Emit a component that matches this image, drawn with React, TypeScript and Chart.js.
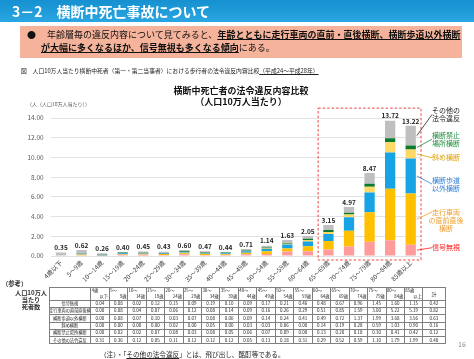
import React, { useEffect, useRef } from 'react';
import { Chart, registerables } from 'chart.js';

Chart.register(...registerables);

const categories = ['4歳以下', '5～9歳', '10～14歳', '15～19歳', '20～24歳', '25～29歳', '30～34歳', '35～39歳', '40～44歳', '45～49歳', '50～54歳', '55～59歳', '60～64歳', '65～69歳', '70～74歳', '75～79歳', '80～84歳', '85歳以上'];

const signalViolation = [0.04, 0.08, 0.02, 0.12, 0.15, 0.09, 0.19, 0.10, 0.09, 0.17, 0.21, 0.46, 0.48, 0.67, 0.96, 1.45, 1.60, 1.15];
const vehicleFrontRear = [0.00, 0.08, 0.04, 0.07, 0.06, 0.12, 0.08, 0.14, 0.09, 0.16, 0.26, 0.29, 0.51, 0.85, 1.59, 3.00, 5.22, 5.19];
const outsideCrosswalk = [0.00, 0.08, 0.07, 0.10, 0.03, 0.07, 0.08, 0.06, 0.09, 0.14, 0.24, 0.41, 0.49, 0.72, 1.37, 1.99, 3.68, 3.56];
const diagonalCrossing = [0.00, 0.00, 0.00, 0.00, 0.02, 0.00, 0.05, 0.00, 0.03, 0.03, 0.06, 0.08, 0.14, 0.19, 0.28, 0.59, 1.03, 0.90];
const prohibitedPlace = [0.00, 0.02, 0.02, 0.07, 0.08, 0.03, 0.08, 0.05, 0.06, 0.07, 0.09, 0.08, 0.13, 0.20, 0.18, 0.30, 0.41, 0.42];
const otherViolation = [0.31, 0.36, 0.12, 0.05, 0.11, 0.12, 0.12, 0.12, 0.05, 0.13, 0.18, 0.31, 0.29, 0.52, 0.59, 1.10, 1.79, 1.99];
const totals = [0.35, 0.62, 0.26, 0.40, 0.45, 0.43, 0.60, 0.47, 0.44, 0.71, 1.14, 1.63, 2.05, 3.15, 4.97, 8.47, 13.72, 13.22];

const seriesNames = ['信号無視', '走行車両の直前直後横断', '横断歩道以外横断', '斜め横断', '横断禁止場所横断', 'その他の法令違反'];
const seriesValues = [signalViolation, vehicleFrontRear, outsideCrosswalk, diagonalCrossing, prohibitedPlace, otherViolation];
const seriesColors = ['#FF9B9B', '#FFC000', '#18A3E4', '#FFD966', '#0A7A2E', '#BFBFBF'];
const tableTotals = [0.42, 0.82, 0.63, 0.16, 0.12, 0.40];

const headerTop = ['4歳', '5～', '10～', '15～', '20～', '25～', '30～', '35～', '40～', '45～', '50～', '55～', '60～', '65～', '70～', '75～', '80～', '85歳'];
const headerBottom = ['以下', '9歳', '14歳', '19歳', '24歳', '29歳', '34歳', '39歳', '44歳', '49歳', '54歳', '59歳', '64歳', '69歳', '74歳', '79歳', '84歳', '以上'];

const Y_MAX = 14;
const Y_STEP = 2;
const HIGHLIGHT_FROM = 13;
const HIGHLIGHT_TOP = 15;

const callouts = [
  { ds: 5, lines: ['その他の', '法令違反'], color: '#222222', at: 14.35 },
  { ds: 4, lines: ['横断禁止', '場所横断'], color: '#1E8E3E', at: 11.85 },
  { ds: 3, lines: ['斜め横断'], color: '#E0A100', at: 9.97 },
  { ds: 2, lines: ['横断歩道', '以外横断'], color: '#2F7FD8', at: 7.3 },
  { ds: 1, lines: ['走行車両', 'の直前直後', '横断'], color: '#F0A030', at: 3.65 },
  { ds: 0, lines: ['信号無視'], color: '#FF2020', at: 0.84 },
];

const JP = '"Noto Sans CJK JP", "Noto Sans", sans-serif';

const overlayPlugin = {
  id: 'overlay',
  afterDatasetsDraw(chart: any) {
    const { ctx } = chart;
    const xs = chart.scales.x;
    const ys = chart.scales.y;
    const nDs = chart.data.datasets.length;
    ctx.save();
    ctx.font = `bold 6.5px ${JP}`;
    ctx.fillStyle = '#262626';
    ctx.textAlign = 'center';
    ctx.textBaseline = 'bottom';
    totals.forEach((t, i) => {
      let top = Infinity;
      for (let d = 0; d < nDs; d++) {
        const el = chart.getDatasetMeta(d).data[i];
        if (el) top = Math.min(top, el.y);
      }
      ctx.fillText(t.toFixed(2), xs.getPixelForValue(i), top - 1.5);
    });
    const cw = xs.getPixelForValue(1) - xs.getPixelForValue(0);
    const last = categories.length - 1;
    const l = xs.getPixelForValue(HIGHLIGHT_FROM) - cw / 2;
    const r = xs.getPixelForValue(last) + cw / 2;
    const t = ys.getPixelForValue(HIGHLIGHT_TOP);
    const b = ys.getPixelForValue(0) + 4;
    ctx.strokeStyle = '#F04040';
    ctx.lineWidth = 1;
    ctx.setLineDash([2.5, 2]);
    ctx.strokeRect(l, t, r - l, b - t);
    ctx.setLineDash([]);
    ctx.font = `7px ${JP}`;
    ctx.textAlign = 'center';
    ctx.textBaseline = 'middle';
    const labelCx = r + 25;
    callouts.forEach((c) => {
      const el = chart.getDatasetMeta(c.ds).data[last];
      const x0 = el.x + el.width / 2 + 1;
      const y0 = (el.y + el.base) / 2;
      const cy = ys.getPixelForValue(c.at);
      const lh = 8;
      const startY = cy - ((c.lines.length - 1) * lh) / 2;
      ctx.strokeStyle = c.color;
      ctx.lineWidth = 0.8;
      ctx.beginPath();
      ctx.moveTo(x0, y0);
      ctx.lineTo(labelCx - 14, c.lines.length > 1 ? startY + lh * 0.5 * (c.lines.length > 2 ? 0 : 1) : cy);
      ctx.stroke();
      ctx.fillStyle = c.color;
      c.lines.forEach((ln, k) => ctx.fillText(ln, labelCx, startY + k * lh));
    });
    ctx.restore();
  },
};

function ChartCanvas() {
  const ref = useRef<HTMLCanvasElement>(null);
  useEffect(() => {
    if (!ref.current) return;
    const chart = new Chart(ref.current, {
      type: 'bar',
      data: {
        labels: categories,
        datasets: seriesValues.map((vals, i) => ({
          label: seriesNames[i],
          data: vals,
          backgroundColor: seriesColors[i],
          borderWidth: 0,
          barPercentage: 0.5,
          categoryPercentage: 1,
        })),
      },
      options: {
        responsive: false,
        animation: false,
        devicePixelRatio: 1,
        layout: { padding: { left: 0, right: 53, top: 118, bottom: 0 } },
        plugins: { legend: { display: false }, tooltip: { enabled: false }, title: { display: false } },
        scales: {
          x: {
            stacked: true,
            grid: { display: false, drawTicks: false },
            border: { display: false },
            ticks: {
              minRotation: 45,
              maxRotation: 45,
              autoSkip: false,
              padding: 3,
              color: '#404040',
              font: { size: 6.3, family: JP },
            },
            afterFit: (s: any) => { s.height = 103; },
          },
          y: {
            stacked: true,
            min: 0,
            max: Y_MAX,
            grid: { color: '#D9D9D9', lineWidth: 0.8, drawTicks: false },
            border: { display: false },
            ticks: {
              stepSize: Y_STEP,
              padding: 7,
              color: '#595959',
              font: { size: 6.5, family: JP },
              callback: (v: any) => Number(v).toFixed(2),
            },
            afterFit: (s: any) => { s.width = 50.7; },
          },
        },
      },
      plugins: [overlayPlugin],
    });
    return () => chart.destroy();
  }, []);
  return <canvas ref={ref} width={474} height={359} style={{ position: 'absolute', left: 0, top: 0 }} />;
}

function DataTable() {
  const left = 49;
  const top = 287;
  const firstW = 41.7;
  const colW = 18.45;
  const lastW = 22.2;
  const headH = 13;
  const rowH = 7.3;
  const line = '#7F7F7F';
  const cells: React.ReactNode[] = [];
  const colX = (c: number) => (c === 0 ? 0 : firstW + (c - 1) * colW);
  const colWidth = (c: number) => (c === 0 ? firstW : c <= categories.length ? colW : lastW);
  const nCols = categories.length + 2;
  const totalW = firstW + categories.length * colW + lastW;
  const totalH = headH + seriesValues.length * rowH;
  const base: React.CSSProperties = { position: 'absolute', boxSizing: 'border-box', overflow: 'hidden', whiteSpace: 'nowrap', fontSize: 4.5, color: '#222' };
  // header
  for (let c = 1; c < nCols; c++) {
    const x = colX(c);
    const w = colWidth(c);
    if (c <= categories.length) {
      cells.push(
        <div key={`h${c}`} style={{ ...base, left: x, top: 0, width: w, height: headH, lineHeight: '6px', fontSize: 4.3 }}>
          <div style={{ textAlign: 'left', paddingLeft: 1 }}>{headerTop[c - 1]}</div>
          <div style={{ textAlign: 'right', paddingRight: 1 }}>{headerBottom[c - 1]}</div>
        </div>
      );
    } else {
      cells.push(<div key="hsum" style={{ ...base, left: x, top: 0, width: w, height: headH, lineHeight: `${headH}px`, textAlign: 'center', fontSize: 5 }}>計</div>);
    }
  }
  seriesValues.forEach((vals, r) => {
    const y = headH + r * rowH;
    cells.push(<div key={`l${r}`} style={{ ...base, left: 0, top: y, width: firstW, height: rowH, lineHeight: `${rowH}px`, textAlign: 'center', fontSize: 4.2 }}>{seriesNames[r]}</div>);
    vals.forEach((v, i) => {
      cells.push(<div key={`c${r}_${i}`} style={{ ...base, left: colX(i + 1), top: y, width: colW, height: rowH, lineHeight: `${rowH}px`, textAlign: 'center' }}>{v.toFixed(2)}</div>);
    });
    cells.push(<div key={`t${r}`} style={{ ...base, left: colX(nCols - 1), top: y, width: lastW, height: rowH, lineHeight: `${rowH}px`, textAlign: 'center' }}>{tableTotals[r].toFixed(2)}</div>);
  });
  const lines: React.ReactNode[] = [];
  for (let c = 0; c <= nCols; c++) {
    const x = c === nCols ? totalW : colX(c);
    lines.push(<div key={`v${c}`} style={{ position: 'absolute', left: x - 0.4, top: 0, width: 0.8, height: totalH, background: line }} />);
  }
  for (let r = 0; r <= seriesValues.length + 1; r++) {
    const y = r === 0 ? 0 : headH + (r - 1) * rowH;
    lines.push(<div key={`hl${r}`} style={{ position: 'absolute', left: 0, top: y - 0.4, width: totalW, height: 0.8, background: line }} />);
  }
  return (
    <div style={{ position: 'absolute', left, top, width: totalW, height: totalH, fontFamily: JP, background: '#fff' }}>
      {cells}
      {lines}
    </div>
  );
}

export default function App() {
  return (
    <div style={{ position: 'absolute', left: 0, top: 0, width: 474, height: 359, background: '#fff', overflow: 'hidden', fontFamily: JP }}>
      <ChartCanvas />
      <div style={{ position: 'absolute', left: 0, top: 0, width: 474, height: 22, background: 'linear-gradient(#1690D0, #2AA6E2)' }} />
      <div style={{ position: 'absolute', left: 12, top: 1, fontSize: 14, fontWeight: 700, color: '#fff', whiteSpace: 'nowrap', lineHeight: '20px' }}>3－2　横断中死亡事故について</div>
      <div style={{ position: 'absolute', left: 20, top: 26, width: 442, height: 32, background: '#F5B39B' }} />
      <div style={{ position: 'absolute', left: 27, top: 29, fontSize: 9, lineHeight: '12px', color: '#111' }}>●</div>
      <div style={{ position: 'absolute', left: 47, top: 29, fontSize: 9, lineHeight: '12px', color: '#111', whiteSpace: 'nowrap' }}>
        年齢層毎の違反内容について見てみると、<b style={{ textDecoration: 'underline' }}>年齢とともに走行車両の直前・直後横断、横断歩道以外横断</b>
      </div>
      <div style={{ position: 'absolute', left: 41, top: 42, fontSize: 9, lineHeight: '12px', color: '#111', whiteSpace: 'nowrap' }}>
        <b style={{ textDecoration: 'underline' }}>が大幅に多くなるほか、信号無視も多くなる傾向</b>にある。
      </div>
      <div style={{ position: 'absolute', left: 21, top: 67, fontSize: 5.8, lineHeight: '8px', color: '#222', whiteSpace: 'nowrap' }}>
        図　人口10万人当たり横断中死者（第一・第二当事者）における歩行者の法令違反内容比較<span style={{ textDecoration: 'underline' }}>（平成24～平成28年）</span>
      </div>
      <div style={{ position: 'absolute', left: 0, width: 482, top: 85, textAlign: 'center', fontSize: 9, fontWeight: 700, lineHeight: '11px', color: '#111' }}>
        横断中死亡者の法令違反内容比較<br />（人口10万人当たり）
      </div>
      <div style={{ position: 'absolute', left: 27, top: 100, fontSize: 5, lineHeight: '7px', color: '#595959', whiteSpace: 'nowrap' }}>（人（人口10万人当たり））</div>
      <div style={{ position: 'absolute', left: 2, top: 280, fontSize: 6.3, fontWeight: 700, lineHeight: '8px', color: '#333' }}>（参考）</div>
      <div style={{ position: 'absolute', left: 11, width: 40, top: 289, textAlign: 'center', fontSize: 6.2, fontWeight: 700, lineHeight: '7px', color: '#333' }}>
        人口10万人<br />当たり<br />死者数
      </div>
      <DataTable />
      <div style={{ position: 'absolute', left: 100, top: 350, fontSize: 6.6, lineHeight: '9px', color: '#222', whiteSpace: 'nowrap' }}>
        （注）・「<span style={{ textDecoration: 'underline' }}>その他の法令違反</span>」とは、飛び出し、酩酊等である。
      </div>
      <div style={{ position: 'absolute', left: 458, top: 340, fontSize: 7, lineHeight: '8px', color: '#888' }}>16</div>
    </div>
  );
}
